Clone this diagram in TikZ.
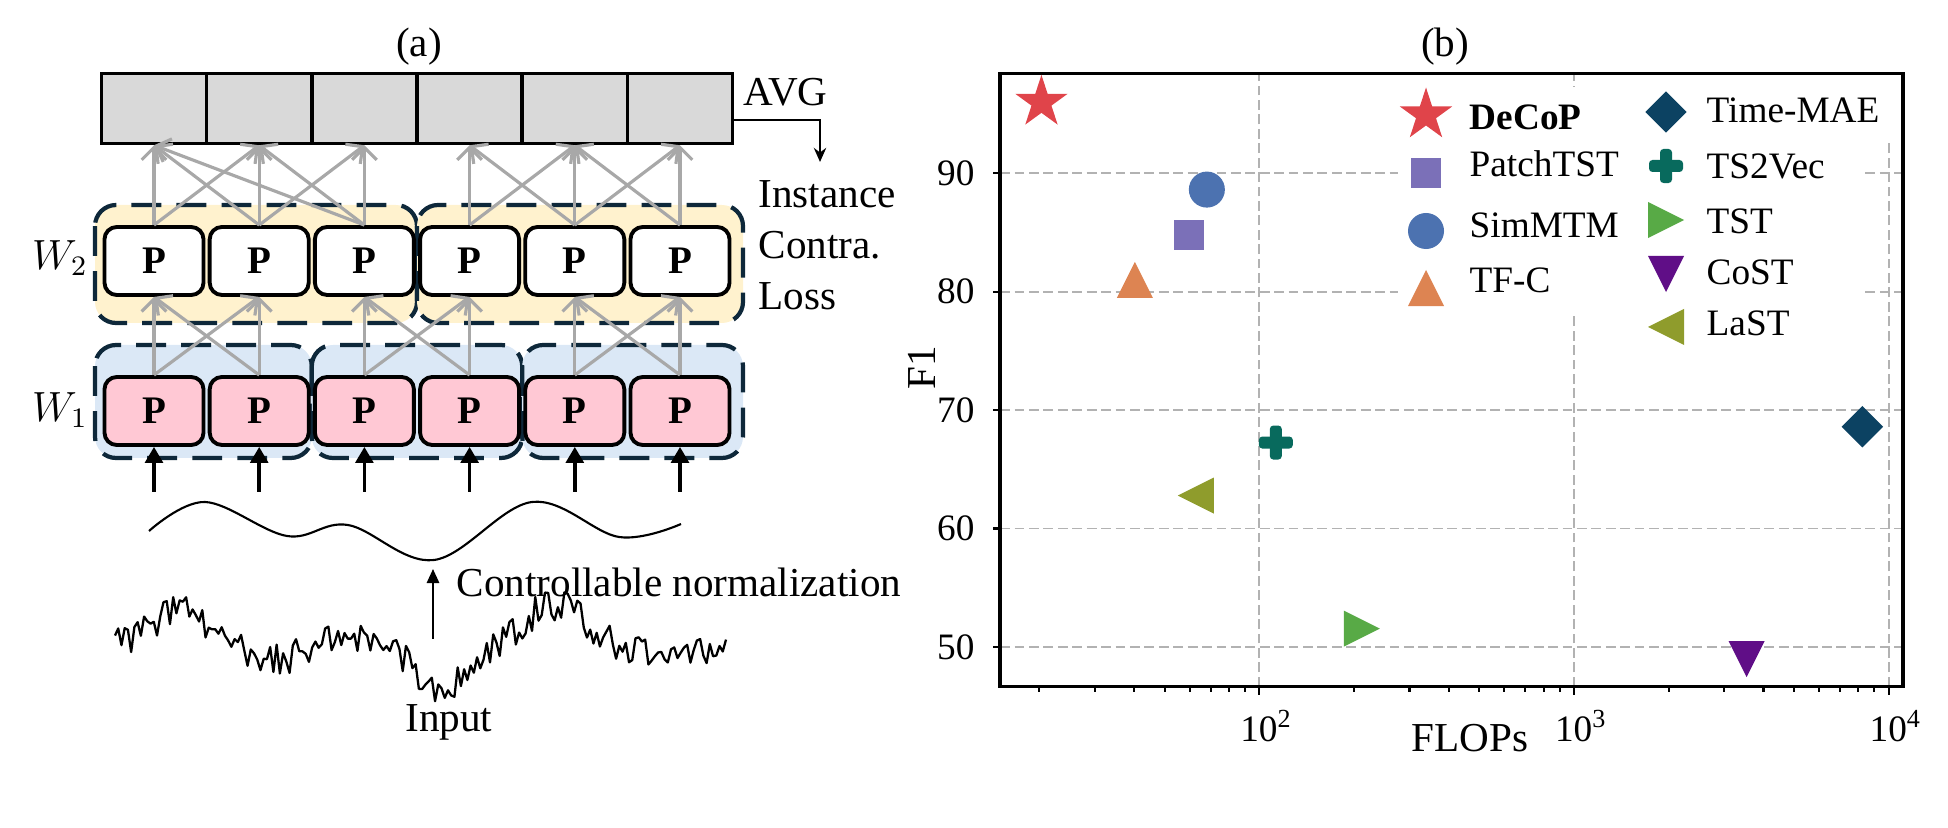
\documentclass[tikz,border=0pt]{standalone}
\usepackage{fontspec}
\setmainfont{Liberation Serif}
\usetikzlibrary{arrows.meta,shapes.geometric}

\definecolor{cellgray}{RGB}{217,217,217}
\definecolor{patchpink}{RGB}{255,200,212}
\definecolor{wtwofill}{RGB}{255,242,206}
\definecolor{wonefill}{RGB}{219,232,246}
\definecolor{grpnavy}{RGB}{14,40,58}
\definecolor{linkgray}{RGB}{168,168,168}
\definecolor{gridgray}{RGB}{178,178,178}
\definecolor{cDeCoP}{RGB}{224,68,74}
\definecolor{cPatchTST}{RGB}{123,112,184}
\definecolor{cSimMTM}{RGB}{76,114,176}
\definecolor{cTFC}{RGB}{221,132,82}
\definecolor{cTimeMAE}{RGB}{12,66,98}
\definecolor{cTSVec}{RGB}{8,106,93}
\definecolor{cTST}{RGB}{88,170,70}
\definecolor{cCoST}{RGB}{96,14,135}
\definecolor{cLaST}{RGB}{143,156,44}

\tikzset{
  txt/.style={inner sep=0pt,font=\fontsize{11.7}{14.5}\selectfont},
  smalltxt/.style={inner sep=0pt,font=\fontsize{10.6}{12}\selectfont},
  topcell/.style={draw,line width=1pt,fill=cellgray,minimum width=1.052cm,minimum height=0.70cm,inner sep=0pt},
  pbox/.style={draw,line width=1.1pt,rounded corners=3.5pt,minimum width=0.99cm,minimum height=0.68cm,inner sep=0pt,font=\fontsize{11.1}{13}\selectfont\bfseries},
  grp/.style={draw=grpnavy,line width=1.2pt,dash pattern=on 8.5pt off 4.3pt,rounded corners=6pt},
  link/.style={linkgray,line width=0.9pt,-{Straight Barb[length=3.5pt,width=7pt]}},
  feed/.style={line width=1pt,-{Triangle[length=4.5pt,width=5pt]}},
  gridln/.style={gridgray,line width=0.55pt,dash pattern=on 2.8pt off 1.3pt},
  tickln/.style={line width=0.6pt},
  mk/.style={inner sep=0pt,draw=none},
  starmk/.style={mk,star,star points=5,star point ratio=2.618,minimum size=0.55cm,fill=cDeCoP},
  sqmk/.style={mk,rectangle,minimum size=0.30cm,fill=cPatchTST},
  cimk/.style={mk,circle,minimum size=0.36cm,fill=cSimMTM},
  dimk/.style={mk,diamond,minimum size=0.42cm,fill=cTimeMAE},
  triup/.pic={\fill (0,0.18cm) -- (-0.18cm,-0.18cm) -- (0.18cm,-0.18cm) -- cycle;},
  tridown/.pic={\fill (0,-0.18cm) -- (-0.18cm,0.18cm) -- (0.18cm,0.18cm) -- cycle;},
  trileft/.pic={\fill (-0.18cm,0) -- (0.18cm,0.18cm) -- (0.18cm,-0.18cm) -- cycle;},
  triright/.pic={\fill (0.18cm,0) -- (-0.18cm,0.18cm) -- (-0.18cm,-0.18cm) -- cycle;},
  plusmk/.pic={\fill[rounded corners=1pt] (-0.17cm,-0.06cm) rectangle (0.17cm,0.06cm);
                \fill[rounded corners=1pt] (-0.06cm,-0.17cm) rectangle (0.06cm,0.17cm);}
}

\begin{document}
\begin{tikzpicture}[x=0.01cm,y=-0.01cm]
\useasboundingbox (0,0) rectangle (1948,828);

% ---- (a) ----
\node[txt] (tita) at (419,47) {(a)};

% window groups
\draw[grp,fill=wtwofill] (95,205) rectangle (417,323);
\draw[grp,fill=wtwofill] (417,205) rectangle (743,323);
\draw[grp,fill=wonefill] (95,345) rectangle (311.8,458);
\draw[grp,fill=wonefill] (311.8,345) rectangle (522.2,458);
\draw[grp,fill=wonefill] (522.2,345) rectangle (743,458);

% patches
\foreach \i in {1,...,6} {
  \node[topcell] (tk\i) at ({154+105.2*(\i-1)},108.5) {};
  \node[pbox,fill=white] (up\i) at ({154+105.2*(\i-1)},261) {P};
  \node[pbox,fill=patchpink] (lo\i) at ({154+105.2*(\i-1)},411) {P};
}

\node[txt] (wtwo) at (60,258) {$W_2$};
\node[txt] (wone) at (60,410) {$W_1$};

% links
\foreach \s/\t in {1/1,1/2,2/1,2/2,2/3,3/1,3/2,3/3,4/4,4/5,5/4,5/5,5/6,6/5,6/6}
  \draw[link] (up\s.north) -- (tk\t.south);
\foreach \s/\t in {1/1,1/2,2/1,2/2,3/3,3/4,4/3,4/4,5/5,5/6,6/5,6/6}
  \draw[link] (lo\s.north) -- (up\t.south);

\foreach \i in {1,...,6} {
  \coordinate (in\i) at ({154+105.2*(\i-1)},492);
  \draw[feed] (in\i) -- (lo\i.south);
}

% pooling
\node[txt,anchor=west] (avg) at (743,92) {AVG};
\node[txt,anchor=west,align=left] (icl) at (758,245) {Instance\\Contra.\\Loss};
\coordinate (avgend) at (820,162);
\draw[line width=0.7pt,-{Stealth[length=4pt,width=3.5pt]}] ([yshift=-0.115cm]tk6.east) -| (avgend);

% series
\draw[line width=0.6pt] plot[smooth,tension=0.6] coordinates {(149,531) (205,502) (287,536) (348,525) (434,560) (532,502) (619,537) (681,524)};
\pgfmathsetseed{17}
\draw[line width=0.65pt,line join=round] plot[domain=115:726,samples=190,variable=\t]
  (\t,{650-38*exp(-((\t-180)/45)*((\t-180)/45))+10*exp(-((\t-275)/30)*((\t-275)/30))-15*exp(-((\t-355)/35)*((\t-355)/35))+40*exp(-((\t-440)/30)*((\t-440)/30))-45*exp(-((\t-555)/45)*((\t-555)/45))+16*rand});
\coordinate (nfrom) at (433,639);
\coordinate (nto) at (433,569);
\draw[line width=0.6pt,-{Triangle[length=4pt,width=3.5pt]}] (nfrom) -- (nto);
\node[txt,anchor=west] (ctrl) at (456,582) {Controllable normalization};
\node[txt] (inp) at (449,722) {Input};

% ---- (b) ----
\node[txt] (titb) at (1445,47) {(b)};
\begin{scope}[shift={(630,1238.7)},x=3.145cm,y=0.1183cm]
  \foreach \f in {50,60,...,90}
    \draw[gridln] (1.1765,\f) -- (4.0445,\f);
  \draw[gridln] (2,46.64) -- (2,98.45);
  \draw[gridln] (3,46.64) -- (3,98.45);
  \draw[gridln] (4,46.64) -- (4,92.87);
\end{scope}
\fill[white] (1398,87) rectangle (1865,315);
\begin{scope}[shift={(630,1238.7)},x=3.145cm,y=0.1183cm]
  \draw[line width=1pt] (1.1765,46.64) rectangle (4.0445,98.45);
  \foreach \f in {50,60,...,90} {
    \draw[tickln] (1.1765,\f) -- ++(-0.07cm,0);
    \node[smalltxt,anchor=east] (yt\f) at ([xshift=-0.25cm]1.1765,\f) {\f};
  }
  \foreach \k in {1,2,3}
    \foreach \m in {2,...,9}
      \draw[tickln] ({\k+log10(\m)},46.64) -- ++(0,-0.05cm);
  \foreach \k in {2,3,4} {
    \draw[tickln] (\k,46.64) -- ++(0,-0.08cm);
    \node[smalltxt] (xt\k) at ([xshift=0.07cm,yshift=-0.39cm]\k,46.64) {10\textsuperscript{\k}};
  }
  % methods
  \node[starmk] (decop) at ({log10(20.3)},96.0) {};
  \node[sqmk] (patchtst) at ({log10(59.7)},84.76) {};
  \node[cimk] (simmtm) at ({log10(68.1)},88.63) {};
  \pic[cTFC] (tfc) at ({log10(40.2)},81.0) {triup};
  \pic[cTSVec] (tsvec) at ({log10(112.8)},67.26) {plusmk};
  \pic[cLaST] (last) at ({log10(62.8)},62.78) {trileft};
  \pic[cTST] (tst) at ({log10(211.8)},51.54) {triright};
  \pic[cCoST] (cost) at ({log10(3535)},48.96) {tridown};
  \node[dimk] (timemae) at ({log10(8245)},68.6) {};
\end{scope}
\node[txt] (xlab) at (1470,738) {FLOPs};
\node[txt,rotate=90] (ylab) at (922,368) {F1};

% legend
\node[starmk] (lg1) at (1426,115) {};
\node[sqmk] (lg2) at (1426,173) {};
\node[cimk] (lg3) at (1426,231) {};
\pic[cTFC] (lg4) at (1426,288) {triup};
\node[dimk] (lg5) at (1666,112) {};
\pic[cTSVec] (lg6) at (1666,166) {plusmk};
\pic[cTST] (lg7) at (1666,220) {triright};
\pic[cCoST] (lg8) at (1666,274) {tridown};
\pic[cLaST] (lg9) at (1666,327) {trileft};
\node[smalltxt,anchor=west] (lt1) at (1469,117) {\textbf{DeCoP}};
\node[smalltxt,anchor=west] (lt2) at (1469,164) {PatchTST};
\node[smalltxt,anchor=west] (lt3) at (1469,225) {SimMTM};
\node[smalltxt,anchor=west] (lt4) at (1469,280) {TF-C};
\node[smalltxt,anchor=west] (lt5) at (1706,110) {Time-MAE};
\node[smalltxt,anchor=west] (lt6) at (1706,166) {TS2Vec};
\node[smalltxt,anchor=west] (lt7) at (1706,221) {TST};
\node[smalltxt,anchor=west] (lt8) at (1706,272) {CoST};
\node[smalltxt,anchor=west] (lt9) at (1706,323) {LaST};
\end{tikzpicture}
\end{document}
